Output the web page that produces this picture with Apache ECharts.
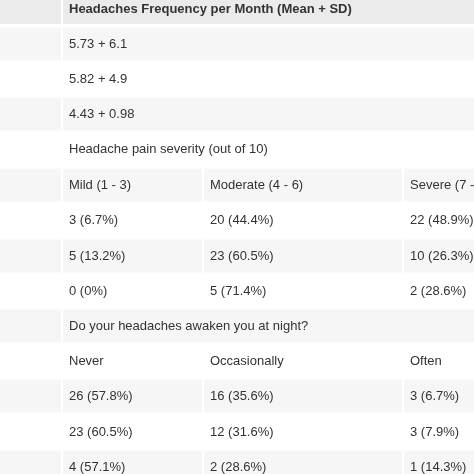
<!DOCTYPE html>
<html><head><meta charset="utf-8">
<script src="https://cdn.jsdelivr.net/npm/echarts@6/dist/echarts.min.js"></script>
<style>html,body{margin:0;padding:0;background:#fff}#c{width:474px;height:474px}</style>
</head><body><div id="c"></div>
<script>
var header = "Headaches Frequency per Month (Mean + SD)";
var frequency = ["5.73 + 6.1", "5.82 + 4.9", "4.43 + 0.98"];
var severityTitle = "Headache pain severity (out of 10)";
var severityCategories = ["Mild (1 - 3)", "Moderate (4 - 6)", "Severe (7 - 10)"];
var severityValues = [["3 (6.7%)", "20 (44.4%)", "22 (48.9%)"], ["5 (13.2%)", "23 (60.5%)", "10 (26.3%)"], ["0 (0%)", "5 (71.4%)", "2 (28.6%)"]];
var nightTitle = "Do your headaches awaken you at night?";
var nightCategories = ["Never", "Occasionally", "Often"];
var nightValues = [["26 (57.8%)", "16 (35.6%)", "3 (6.7%)"], ["23 (60.5%)", "12 (31.6%)", "3 (7.9%)"], ["4 (57.1%)", "2 (28.6%)", "1 (14.3%)"]];

var rows = [{span: header, bold: true}];
frequency.forEach(function (f) { rows.push({span: f}); });
rows.push({span: severityTitle});
rows.push({cells: severityCategories});
severityValues.forEach(function (r) { rows.push({cells: r}); });
rows.push({span: nightTitle});
rows.push({cells: nightCategories});
nightValues.forEach(function (r) { rows.push({cells: r}); });

var centers = [9, 44, 79, 114, 149, 185, 220, 256, 291, 326, 361, 396, 432, 467];
var colX = [0, 63, 204, 404];
var colW = [61, 139, 198, 80];
var els = [];
var font = '"Liberation Sans", Arial, sans-serif';
rows.forEach(function (row, i) {
  var cy = centers[i];
  var top = i === 0 ? -10 : cy - 16.5;
  var h = i === 0 ? 34 : 33;
  var fill = i === 0 ? '#ebebeb' : (i % 2 === 1 ? '#f6f6f6' : '#ffffff');
  if (fill !== '#ffffff') {
    els.push({type: 'rect', shape: {x: colX[0], y: top, width: colW[0], height: h}, style: {fill: fill}});
    if (row.span !== undefined) {
      els.push({type: 'rect', shape: {x: colX[1], y: top, width: 474 - colX[1], height: h}, style: {fill: fill}});
    } else {
      for (var k = 1; k < 4; k++) els.push({type: 'rect', shape: {x: colX[k], y: top, width: colW[k], height: h}, style: {fill: fill}});
    }
  }
  var texts = row.span !== undefined ? [row.span] : row.cells;
  texts.forEach(function (t, j) {
    els.push({type: 'text', x: colX[j + 1] + 6, y: cy, style: {text: t, fill: '#333', font: (row.bold ? 'bold ' : '') + '13px ' + font, verticalAlign: 'middle', align: 'left'}});
  });
});
var chart = echarts.init(document.getElementById('c'));
chart.setOption({animation: false, graphic: {elements: els}});
</script></body></html>
